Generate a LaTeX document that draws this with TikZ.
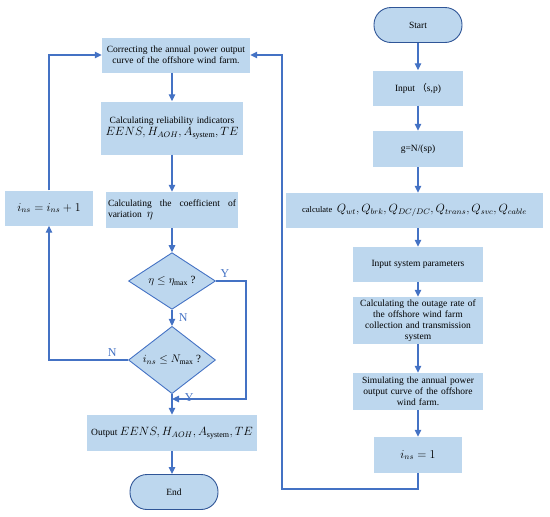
\documentclass[tikz,border=0pt]{standalone}
\usepackage{fontspec}
\setmainfont{Liberation Serif}
\newfontfamily\cjk{Noto Sans CJK SC}
\usetikzlibrary{arrows.meta, shapes.geometric, positioning}
\definecolor{boxFill}{HTML}{BDD7EE}
\definecolor{lineBlue}{HTML}{4472C4}
\definecolor{termBlue}{HTML}{2F5597}

\begin{document}
\begin{tikzpicture}[x=1pt, y=-1pt, >={Triangle[length=7pt,width=6.5pt]},
    box/.style={fill=boxFill, inner sep=2pt, align=center, font=\fontsize{9.5}{11}\selectfont},
    term/.style={box, draw=termBlue, line width=0.9pt, rounded corners=17pt, minimum width=88pt, minimum height=35pt},
    decide/.style={diamond, fill=boxFill, draw=lineBlue, line width=0.9pt, inner sep=0pt, minimum width=87pt, minimum height=52pt, font=\fontsize{11}{13}\selectfont},
    flow/.style={->, lineBlue, line width=1.1pt},
    yn/.style={font=\fontsize{12}{14}\selectfont}]
    \useasboundingbox (0,0) rectangle (550,517);

    % left column
    \node[box, text width=144pt, minimum height=35pt] (corr) at (176,55) {Correcting the annual power output\\curve of the offshore wind farm.};
    \node[box, text width=138pt, minimum height=53pt] (rel) at (172,128) {Calculating reliability indicators\\[1pt]{\fontsize{12}{14}\selectfont $EENS, H_{AOH}, A_{\mathrm{system}}, TE$}};
    \node[box, text width=128pt, minimum height=36pt, align=justify] (coef) at (172,210) {Calculating the coefficient of\linebreak variation \;{\fontsize{12}{14}\selectfont$\eta$}};
    \node[box, minimum width=88pt, minimum height=35pt, font=\fontsize{12}{14}\selectfont] (inc) at (49,208) {$i_{ns} = i_{ns} + 1$};
    \node[decide] (d1) at (172,281) {$\eta \le \eta_{\max}$ ?};
    \node[decide] (d2) at (172,360) {$i_{ns} \le N_{\max}$ ?};
    \node[box, minimum width=170pt, minimum height=36pt] (out) at (172,433) {Output {\fontsize{12}{14}\selectfont$EENS, H_{AOH}, A_{\mathrm{system}}, TE$}};
    \node[term] (end) at (174,492) {End};

    % right column
    \node[term] (start) at (418,25) {Start};
    \node[box, minimum width=90pt, minimum height=35pt] (inp) at (418,88) {Input {\cjk（}s,p)};
    \node[box, minimum width=90pt, minimum height=36pt] (g) at (418,149) {g=N/(sp)};
    \node[box, minimum width=257pt, minimum height=35pt, font=\fontsize{8.5}{10}\selectfont] (calc) at (414.5,210.5) {calculate \;{\fontsize{12}{14}\selectfont $Q_{wt}, Q_{brk}, Q_{DC/DC}, Q_{trans}, Q_{svc}, Q_{cable}$}};
    \node[box, minimum width=130pt, minimum height=35pt] (isp) at (418,264.5) {Input system parameters};
    \node[box, text width=126pt, minimum height=47pt, font=\fontsize{9.5}{11}\selectfont] (outage) at (418,320.5) {Calculating the outage rate of\\the offshore wind farm\\collection and transmission\\system};
    \node[box, text width=126pt, minimum height=37pt, font=\fontsize{9.5}{11}\selectfont] (sim) at (418,391.5) {Simulating the annual power\\output curve of the offshore\\wind farm.};
    \node[box, minimum width=88pt, minimum height=36pt, font=\fontsize{12}{14}\selectfont] (ione) at (418,455) {$i_{ns} = 1$};

    \coordinate (yR) at (246,281);
    \coordinate (mrg) at (172,399);
    \coordinate (rb) at (282,489);

    % connectors
    \draw[flow] (corr.south -| rel.north) -- (rel.north);
    \draw[flow] (rel) -- (coef);
    \draw[flow] (coef) -- (d1);
    \draw[flow] (d1) -- (d2) node[midway, right=3pt, yn] {N};
    \draw[flow] (d1.east) -- (yR) node[pos=0.3, above, yn] {Y} |- (mrg);
    \draw[flow] (d2) -- (out) node[pos=0.15, right=9pt, yn] {Y};
    \draw[flow] (d2.west) -| (inc.south) node[pos=0.1, above, yn] {N};
    \draw[flow] (inc.north) |- (corr.west);
    \draw[flow] (out.south) -- (out.south |- end.north);

    \draw[flow] (start) -- (inp);
    \draw[flow] (inp) -- (g);
    \draw[flow] (g.south) -- (g.south |- calc.north);
    \draw[flow] (calc.south -| isp.north) -- (isp.north);
    \draw[flow] (isp) -- (outage);
    \draw[flow] (outage) -- (sim);
    \draw[flow] (sim) -- (ione);
    \draw[flow] (ione.south) |- (rb) |- (corr.east);
\end{tikzpicture}
\end{document}
